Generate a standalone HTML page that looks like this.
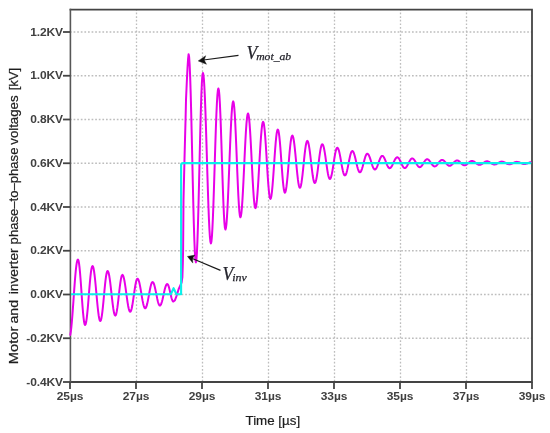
<!DOCTYPE html>
<html><head><meta charset="utf-8"><style>
html,body{margin:0;padding:0;background:#fff;}
svg{display:block;}
.tk text{font-family:"Liberation Sans",Arial,sans-serif;font-weight:bold;font-size:12px;letter-spacing:-0.12px;fill:#404040;}
.lab{font-family:"Liberation Sans",Arial,sans-serif;font-size:13.5px;fill:#1e1e1e;stroke:#1e1e1e;stroke-width:0.22px;}
.ann{font-family:"Liberation Serif","Times New Roman",serif;font-style:italic;fill:#24242c;stroke:#24242c;stroke-width:0.25px;}
</style></head><body>
<svg width="550" height="433" viewBox="0 0 550 433">
<rect width="550" height="433" fill="#fff"/>
<g stroke="#bdbdbd" stroke-width="1.3" stroke-dasharray="1.7 1.9" fill="none">
<line x1="136.5" y1="9" x2="136.5" y2="382"/><line x1="202.5" y1="9" x2="202.5" y2="382"/><line x1="268.5" y1="9" x2="268.5" y2="382"/><line x1="334.5" y1="9" x2="334.5" y2="382"/><line x1="400.5" y1="9" x2="400.5" y2="382"/><line x1="466.5" y1="9" x2="466.5" y2="382"/><line x1="70" y1="32.00" x2="532" y2="32.00"/><line x1="70" y1="75.75" x2="532" y2="75.75"/><line x1="70" y1="119.50" x2="532" y2="119.50"/><line x1="70" y1="163.25" x2="532" y2="163.25"/><line x1="70" y1="207.00" x2="532" y2="207.00"/><line x1="70" y1="250.75" x2="532" y2="250.75"/><line x1="70" y1="294.50" x2="532" y2="294.50"/><line x1="70" y1="338.25" x2="532" y2="338.25"/>
</g>
<g stroke="#444" stroke-width="1.8" fill="none">
<path d="M69.6,9.6 L532,9.6 L532,382 L69.6,382" stroke-width="1.8" stroke-linejoin="miter"/><line x1="70.4" y1="8.8" x2="70.4" y2="382.8" stroke="#575757" stroke-width="1.6"/>
<line x1="63" y1="32.00" x2="70" y2="32.00"/><line x1="63" y1="75.75" x2="70" y2="75.75"/><line x1="63" y1="119.50" x2="70" y2="119.50"/><line x1="63" y1="163.25" x2="70" y2="163.25"/><line x1="63" y1="207.00" x2="70" y2="207.00"/><line x1="63" y1="250.75" x2="70" y2="250.75"/><line x1="63" y1="294.50" x2="70" y2="294.50"/><line x1="63" y1="338.25" x2="70" y2="338.25"/><line x1="63" y1="382.00" x2="70" y2="382.00"/><line x1="70" y1="382" x2="70" y2="389"/><line x1="136" y1="382" x2="136" y2="389"/><line x1="202" y1="382" x2="202" y2="389"/><line x1="268" y1="382" x2="268" y2="389"/><line x1="334" y1="382" x2="334" y2="389"/><line x1="400" y1="382" x2="400" y2="389"/><line x1="466" y1="382" x2="466" y2="389"/><line x1="532" y1="382" x2="532" y2="389"/>
</g>
<path d="M70.31,334.87 L70.82,331.66 L71.32,327.32 L71.83,322.00 L72.34,315.88 L72.84,309.17 L73.35,302.10 L73.85,294.90 L74.36,287.83 L74.86,281.12 L75.37,275.00 L75.88,269.68 L76.38,265.34 L76.89,262.13 L77.39,260.16 L77.90,259.50 L78.41,260.32 L78.93,262.74 L79.44,266.65 L79.96,271.83 L80.47,278.04 L80.99,284.96 L81.50,292.25 L82.01,299.54 L82.53,306.46 L83.04,312.67 L83.56,317.85 L84.07,321.76 L84.59,324.18 L85.10,325.00 L85.63,324.26 L86.16,322.08 L86.69,318.56 L87.21,313.89 L87.74,308.30 L88.27,302.06 L88.80,295.50 L89.33,288.94 L89.86,282.70 L90.39,277.11 L90.91,272.44 L91.44,268.92 L91.97,266.74 L92.50,266.00 L93.02,266.60 L93.54,268.38 L94.06,271.25 L94.58,275.10 L95.10,279.75 L95.62,285.00 L96.14,290.63 L96.66,296.37 L97.18,302.00 L97.70,307.25 L98.22,311.90 L98.74,315.75 L99.26,318.62 L99.78,320.40 L100.30,321.00 L100.82,320.37 L101.34,318.52 L101.86,315.55 L102.39,311.59 L102.91,306.85 L103.43,301.56 L103.95,296.00 L104.47,290.44 L104.99,285.15 L105.51,280.41 L106.04,276.45 L106.56,273.48 L107.08,271.63 L107.60,271.00 L108.11,271.49 L108.63,272.93 L109.14,275.26 L109.65,278.38 L110.17,282.15 L110.68,286.41 L111.19,290.97 L111.71,295.63 L112.22,300.19 L112.73,304.45 L113.25,308.22 L113.76,311.34 L114.27,313.67 L114.79,315.11 L115.30,315.60 L115.81,315.09 L116.31,313.58 L116.82,311.16 L117.33,307.94 L117.84,304.08 L118.34,299.78 L118.85,295.25 L119.36,290.72 L119.86,286.42 L120.37,282.56 L120.88,279.34 L121.39,276.92 L121.89,275.41 L122.40,274.90 L122.92,275.30 L123.44,276.50 L123.96,278.42 L124.48,281.00 L125.00,284.12 L125.52,287.65 L126.04,291.42 L126.56,295.28 L127.08,299.05 L127.60,302.57 L128.12,305.70 L128.64,308.28 L129.16,310.20 L129.68,311.40 L130.20,311.80 L130.72,311.39 L131.24,310.16 L131.76,308.19 L132.29,305.57 L132.81,302.43 L133.33,298.93 L133.85,295.25 L134.37,291.57 L134.89,288.07 L135.41,284.93 L135.94,282.31 L136.46,280.34 L136.98,279.11 L137.50,278.70 L138.01,279.02 L138.53,279.98 L139.04,281.53 L139.55,283.60 L140.07,286.10 L140.58,288.93 L141.09,291.95 L141.61,295.05 L142.12,298.07 L142.63,300.90 L143.15,303.40 L143.66,305.47 L144.17,307.02 L144.69,307.98 L145.20,308.30 L145.73,307.97 L146.26,307.00 L146.79,305.43 L147.31,303.35 L147.84,300.86 L148.37,298.08 L148.90,295.15 L149.43,292.22 L149.96,289.44 L150.49,286.95 L151.01,284.87 L151.54,283.30 L152.07,282.33 L152.60,282.00 L153.12,282.30 L153.64,283.17 L154.16,284.57 L154.69,286.44 L155.21,288.68 L155.73,291.17 L156.25,293.80 L156.77,296.43 L157.29,298.92 L157.81,301.16 L158.34,303.03 L158.86,304.43 L159.38,305.30 L159.90,305.60 L160.42,305.33 L160.94,304.53 L161.46,303.24 L161.99,301.53 L162.51,299.49 L163.03,297.20 L163.55,294.80 L164.07,292.40 L164.59,290.11 L165.11,288.07 L165.64,286.36 L166.16,285.07 L166.68,284.27 L167.20,284.00 L167.72,284.30 L168.23,285.18 L168.75,286.58 L169.27,288.40 L169.78,290.52 L170.30,292.80 L170.82,295.08 L171.33,297.20 L171.85,299.02 L172.37,300.42 L172.88,301.30 L173.40,301.60 L175.00,300.20 L176.70,295.50 L178.50,289.50 L180.20,285.60 L181.60,282.50 L182.40,277.00 L182.80,264.00 L183.10,250.00 L183.50,200.00 L184.40,163.00 L185.00,140.00 L185.60,118.00 L186.00,100.00 L186.80,82.00 L187.50,68.00 L188.10,58.50 L188.60,54.20 L189.12,56.81 L189.64,64.51 L190.16,76.91 L190.69,93.39 L191.21,113.13 L191.73,135.14 L192.25,158.30 L192.77,181.46 L193.29,203.47 L193.81,223.21 L194.34,239.69 L194.86,252.09 L195.38,259.79 L195.90,262.40 L196.40,260.02 L196.90,253.02 L197.40,241.73 L197.90,226.73 L198.40,208.76 L198.90,188.73 L199.40,167.65 L199.90,146.57 L200.40,126.54 L200.90,108.57 L201.40,93.57 L201.90,82.28 L202.40,75.28 L202.90,72.90 L203.40,74.54 L203.90,79.39 L204.40,87.27 L204.90,97.87 L205.40,110.79 L205.90,125.53 L206.40,141.52 L206.90,158.15 L207.40,174.78 L207.90,190.77 L208.40,205.51 L208.90,218.43 L209.40,229.03 L209.90,236.91 L210.40,241.76 L210.90,243.40 L211.40,241.71 L211.90,236.70 L212.40,228.60 L212.90,217.76 L213.40,204.65 L213.90,189.85 L214.40,174.00 L214.90,157.80 L215.40,141.95 L215.90,127.15 L216.40,114.04 L216.90,103.20 L217.40,95.10 L217.90,90.09 L218.40,88.40 L218.90,90.17 L219.40,95.39 L219.90,103.80 L220.40,114.98 L220.90,128.37 L221.40,143.29 L221.90,159.00 L222.40,174.71 L222.90,189.63 L223.40,203.02 L223.90,214.20 L224.40,222.61 L224.90,227.83 L225.40,229.60 L225.92,228.20 L226.44,224.06 L226.96,217.36 L227.48,208.39 L228.00,197.55 L228.52,185.31 L229.04,172.20 L229.56,158.80 L230.08,145.69 L230.60,133.45 L231.12,122.61 L231.64,113.64 L232.16,106.94 L232.68,102.80 L233.20,101.40 L233.71,102.85 L234.23,107.14 L234.74,114.04 L235.26,123.22 L235.77,134.21 L236.29,146.45 L236.80,159.35 L237.31,172.25 L237.83,184.49 L238.34,195.48 L238.86,204.66 L239.37,211.56 L239.89,215.85 L240.40,217.30 L240.91,216.17 L241.41,212.81 L241.92,207.39 L242.43,200.13 L242.93,191.35 L243.44,181.44 L243.95,170.83 L244.45,159.97 L244.96,149.36 L245.47,139.45 L245.97,130.67 L246.48,123.41 L246.99,117.99 L247.49,114.63 L248.00,113.50 L248.53,114.69 L249.06,118.19 L249.59,123.83 L250.11,131.33 L250.64,140.31 L251.17,150.31 L251.70,160.85 L252.23,171.39 L252.76,181.39 L253.29,190.37 L253.81,197.87 L254.34,203.51 L254.87,207.01 L255.40,208.20 L255.91,207.26 L256.43,204.47 L256.94,199.95 L257.45,193.91 L257.97,186.60 L258.48,178.35 L258.99,169.52 L259.51,160.48 L260.02,151.65 L260.53,143.40 L261.05,136.09 L261.56,130.05 L262.07,125.53 L262.59,122.74 L263.10,121.80 L263.62,122.77 L264.14,125.62 L264.66,130.21 L265.19,136.31 L265.71,143.62 L266.23,151.77 L266.75,160.35 L267.27,168.93 L267.79,177.08 L268.31,184.39 L268.84,190.49 L269.36,195.08 L269.88,197.93 L270.40,198.90 L270.93,198.03 L271.46,195.46 L271.99,191.33 L272.51,185.84 L273.04,179.26 L273.57,171.92 L274.10,164.20 L274.63,156.48 L275.16,149.14 L275.69,142.56 L276.21,137.07 L276.74,132.94 L277.27,130.37 L277.80,129.50 L278.31,130.29 L278.81,132.63 L279.32,136.39 L279.83,141.40 L280.34,147.39 L280.84,154.07 L281.35,161.10 L281.86,168.13 L282.36,174.81 L282.87,180.80 L283.38,185.81 L283.89,189.57 L284.39,191.91 L284.90,192.70 L285.43,191.98 L285.96,189.87 L286.49,186.46 L287.01,181.93 L287.54,176.51 L288.07,170.46 L288.60,164.10 L289.13,157.74 L289.66,151.69 L290.19,146.27 L290.71,141.74 L291.24,138.33 L291.77,136.22 L292.30,135.50 L292.81,136.07 L293.31,137.76 L293.82,140.49 L294.33,144.15 L294.83,148.57 L295.34,153.57 L295.85,158.92 L296.35,164.38 L296.86,169.73 L297.37,174.72 L297.87,179.15 L298.38,182.81 L298.89,185.54 L299.39,187.23 L299.90,187.80 L300.43,187.21 L300.96,185.48 L301.49,182.68 L302.01,178.97 L302.54,174.52 L303.07,169.57 L303.60,164.35 L304.13,159.13 L304.66,154.18 L305.19,149.73 L305.71,146.02 L306.24,143.22 L306.77,141.49 L307.30,140.90 L307.80,141.36 L308.30,142.72 L308.80,144.92 L309.30,147.86 L309.80,151.43 L310.30,155.45 L310.80,159.75 L311.30,164.15 L311.80,168.45 L312.30,172.47 L312.80,176.04 L313.30,178.98 L313.80,181.18 L314.30,182.54 L314.80,183.00 L315.30,182.58 L315.80,181.32 L316.30,179.29 L316.80,176.58 L317.30,173.30 L317.80,169.59 L318.30,165.63 L318.80,161.57 L319.30,157.61 L319.80,153.90 L320.30,150.62 L320.80,147.91 L321.30,145.88 L321.80,144.62 L322.30,144.20 L322.81,144.58 L323.31,145.70 L323.82,147.52 L324.33,149.96 L324.83,152.90 L325.34,156.22 L325.85,159.78 L326.35,163.42 L326.86,166.98 L327.37,170.30 L327.87,173.24 L328.38,175.68 L328.89,177.50 L329.39,178.62 L329.90,179.00 L330.43,178.61 L330.96,177.45 L331.49,175.59 L332.01,173.11 L332.54,170.14 L333.07,166.83 L333.60,163.35 L334.13,159.87 L334.66,156.56 L335.19,153.59 L335.71,151.11 L336.24,149.25 L336.77,148.09 L337.30,147.70 L337.81,148.00 L338.31,148.90 L338.82,150.35 L339.33,152.30 L339.83,154.65 L340.34,157.30 L340.85,160.15 L341.35,163.05 L341.86,165.90 L342.37,168.55 L342.87,170.90 L343.38,172.85 L343.89,174.30 L344.39,175.20 L344.90,175.50 L345.43,175.19 L345.96,174.29 L346.49,172.83 L347.01,170.89 L347.54,168.57 L348.07,165.98 L348.60,163.25 L349.13,160.52 L349.66,157.93 L350.19,155.61 L350.71,153.67 L351.24,152.21 L351.77,151.31 L352.30,151.00 L352.81,151.23 L353.31,151.92 L353.82,153.03 L354.33,154.52 L354.83,156.32 L355.34,158.36 L355.85,160.54 L356.35,162.76 L356.86,164.94 L357.37,166.97 L357.87,168.78 L358.38,170.27 L358.89,171.38 L359.39,172.07 L359.90,172.30 L360.43,172.07 L360.96,171.38 L361.49,170.27 L362.01,168.80 L362.54,167.04 L363.07,165.07 L363.60,163.00 L364.13,160.93 L364.66,158.96 L365.19,157.20 L365.71,155.73 L366.24,154.62 L366.77,153.93 L367.30,153.70 L367.81,153.87 L368.31,154.38 L368.82,155.21 L369.33,156.31 L369.83,157.65 L370.34,159.16 L370.85,160.77 L371.35,162.43 L371.86,164.04 L372.37,165.55 L372.87,166.89 L373.38,167.99 L373.89,168.82 L374.39,169.33 L374.90,169.50 L375.43,169.33 L375.96,168.83 L376.49,168.02 L377.01,166.94 L377.54,165.65 L378.07,164.21 L378.60,162.70 L379.13,161.19 L379.66,159.75 L380.19,158.46 L380.71,157.38 L381.24,156.57 L381.77,156.07 L382.30,155.90 L382.82,156.05 L383.34,156.51 L383.86,157.24 L384.39,158.22 L384.91,159.38 L385.43,160.68 L385.95,162.05 L386.47,163.42 L386.99,164.72 L387.51,165.88 L388.04,166.86 L388.56,167.59 L389.08,168.05 L389.60,168.20 L390.11,168.08 L390.63,167.73 L391.14,167.16 L391.65,166.40 L392.17,165.47 L392.68,164.43 L393.19,163.32 L393.71,162.18 L394.22,161.07 L394.73,160.03 L395.25,159.10 L395.76,158.34 L396.27,157.77 L396.79,157.42 L397.30,157.30 L397.83,157.44 L398.37,157.83 L398.90,158.47 L399.43,159.33 L399.97,160.35 L400.50,161.49 L401.04,162.68 L401.57,163.88 L402.10,165.02 L402.64,166.04 L403.17,166.89 L403.70,167.54 L404.24,167.93 L404.77,168.07 L405.30,167.95 L405.84,167.59 L406.37,167.02 L406.90,166.25 L407.44,165.34 L407.97,164.31 L408.50,163.24 L409.04,162.17 L409.57,161.15 L410.11,160.23 L410.64,159.46 L411.17,158.89 L411.71,158.53 L412.24,158.41 L412.77,158.52 L413.31,158.84 L413.84,159.37 L414.37,160.06 L414.91,160.89 L415.44,161.81 L415.98,162.78 L416.51,163.76 L417.04,164.68 L417.58,165.51 L418.11,166.20 L418.64,166.72 L419.18,167.04 L419.71,167.15 L420.24,167.05 L420.78,166.76 L421.31,166.29 L421.84,165.66 L422.38,164.91 L422.91,164.08 L423.45,163.20 L423.98,162.32 L424.51,161.48 L425.05,160.73 L425.58,160.10 L426.11,159.63 L426.65,159.34 L427.18,159.24 L427.71,159.33 L428.25,159.59 L428.78,160.02 L429.31,160.59 L429.85,161.27 L430.38,162.02 L430.92,162.82 L431.45,163.62 L431.98,164.38 L432.52,165.05 L433.05,165.62 L433.58,166.05 L434.12,166.31 L434.65,166.40 L435.18,166.32 L435.72,166.08 L436.25,165.70 L436.78,165.18 L437.32,164.57 L437.85,163.88 L438.38,163.16 L438.92,162.44 L439.45,161.75 L439.99,161.14 L440.52,160.63 L441.05,160.24 L441.59,160.00 L442.12,159.92 L442.65,159.99 L443.19,160.21 L443.72,160.56 L444.25,161.02 L444.79,161.58 L445.32,162.20 L445.86,162.85 L446.39,163.51 L446.92,164.13 L447.46,164.68 L447.99,165.15 L448.52,165.50 L449.06,165.72 L449.59,165.79 L450.12,165.72 L450.66,165.53 L451.19,165.21 L451.72,164.79 L452.26,164.28 L452.79,163.72 L453.33,163.13 L453.86,162.54 L454.39,161.98 L454.93,161.48 L455.46,161.06 L455.99,160.74 L456.53,160.54 L457.06,160.48 L457.59,160.54 L458.13,160.71 L458.66,161.00 L459.19,161.38 L459.73,161.84 L460.26,162.35 L460.80,162.88 L461.33,163.42 L461.86,163.92 L462.40,164.38 L462.93,164.76 L463.46,165.05 L464.00,165.22 L464.53,165.29 L465.06,165.23 L465.60,165.07 L466.13,164.81 L466.66,164.47 L467.20,164.05 L467.73,163.59 L468.26,163.11 L468.80,162.62 L469.33,162.16 L469.87,161.75 L470.40,161.41 L470.93,161.15 L471.47,160.99 L472.00,160.93 L472.53,160.98 L473.07,161.13 L473.60,161.36 L474.13,161.67 L474.67,162.05 L475.20,162.46 L475.74,162.90 L476.27,163.34 L476.80,163.76 L477.34,164.13 L477.87,164.44 L478.40,164.68 L478.94,164.82 L479.47,164.87 L480.00,164.83 L480.54,164.70 L481.07,164.48 L481.60,164.20 L482.14,163.86 L482.67,163.49 L483.21,163.09 L483.74,162.69 L484.27,162.31 L484.81,161.98 L485.34,161.69 L485.87,161.48 L486.41,161.35 L486.94,161.31 L487.47,161.35 L488.01,161.47 L488.54,161.66 L489.07,161.91 L489.61,162.22 L490.14,162.56 L490.68,162.92 L491.21,163.28 L491.74,163.62 L492.28,163.93 L492.81,164.18 L493.34,164.37 L493.88,164.49 L494.41,164.53 L494.94,164.50 L495.48,164.39 L496.01,164.22 L496.54,163.98 L497.08,163.71 L497.61,163.40 L498.14,163.07 L498.68,162.75 L499.21,162.44 L499.75,162.16 L500.28,161.93 L500.81,161.76 L501.35,161.65 L501.88,161.61 L502.41,161.64 L502.95,161.74 L503.48,161.90 L504.01,162.11 L504.55,162.36 L505.08,162.64 L505.62,162.93 L506.15,163.23 L506.68,163.51 L507.22,163.76 L507.75,163.97 L508.28,164.13 L508.82,164.22 L509.35,164.26 L509.88,164.23 L510.42,164.14 L510.95,164.00 L511.48,163.81 L512.02,163.58 L512.55,163.33 L513.09,163.06 L513.62,162.79 L514.15,162.54 L514.69,162.31 L515.22,162.12 L515.75,161.98 L516.29,161.89 L516.82,161.86 L517.35,161.89 L517.89,161.97 L518.42,162.10 L518.95,162.27 L519.49,162.48 L520.02,162.70 L520.56,162.95 L521.09,163.19 L521.62,163.42 L522.16,163.62 L522.69,163.79 L523.22,163.92 L523.76,164.00 L524.29,164.03 L524.82,164.01 L525.36,163.93 L525.89,163.82 L526.42,163.66 L526.96,163.47 L527.49,163.27 L528.02,163.05 L528.56,162.83 L529.09,162.62 L529.63,162.44 L530.16,162.28 L530.69,162.16" fill="none" stroke="#e800e8" stroke-width="2" stroke-linejoin="round" stroke-linecap="round"/>
<path d="M71,294.3 L170.8,294.3 L173.6,288.2 L176.5,294.3 L181.1,294.3 L181.1,165 Q181.1,163.1 183.1,163.1 L531.2,163.1" fill="none" stroke="#0af0ea" stroke-width="2.1" stroke-linejoin="round"/>
<g class="tk">
<text transform="translate(62.9,35.60) scale(1,0.92)" text-anchor="end">1.2KV</text><text transform="translate(62.9,79.35) scale(1,0.92)" text-anchor="end">1.0KV</text><text transform="translate(62.9,123.10) scale(1,0.92)" text-anchor="end">0.8KV</text><text transform="translate(62.9,166.85) scale(1,0.92)" text-anchor="end">0.6KV</text><text transform="translate(62.9,210.60) scale(1,0.92)" text-anchor="end">0.4KV</text><text transform="translate(62.9,254.35) scale(1,0.92)" text-anchor="end">0.2KV</text><text transform="translate(62.9,298.10) scale(1,0.92)" text-anchor="end">0.0KV</text><text transform="translate(62.9,341.85) scale(1,0.92)" text-anchor="end">-0.2KV</text><text transform="translate(62.9,385.60) scale(1,0.92)" text-anchor="end">-0.4KV</text><text transform="translate(70,400) scale(1,0.92)" text-anchor="middle">25µs</text><text transform="translate(136,400) scale(1,0.92)" text-anchor="middle">27µs</text><text transform="translate(202,400) scale(1,0.92)" text-anchor="middle">29µs</text><text transform="translate(268,400) scale(1,0.92)" text-anchor="middle">31µs</text><text transform="translate(334,400) scale(1,0.92)" text-anchor="middle">33µs</text><text transform="translate(400,400) scale(1,0.92)" text-anchor="middle">35µs</text><text transform="translate(466,400) scale(1,0.92)" text-anchor="middle">37µs</text><text transform="translate(532,400) scale(1,0.92)" text-anchor="middle">39µs</text>
</g>
<g class="lab" text-anchor="middle"><text transform="translate(18.2,345.5) rotate(-90)" textLength="37.6" lengthAdjust="spacingAndGlyphs">Motor</text><text transform="translate(18.2,311.75) rotate(-90)" textLength="23.6" lengthAdjust="spacingAndGlyphs">and</text><text transform="translate(18.2,271.3) rotate(-90)" textLength="45.9" lengthAdjust="spacingAndGlyphs">inverter</text><text transform="translate(18.2,196) rotate(-90)" textLength="96.8" lengthAdjust="spacingAndGlyphs">phase–to–phase</text><text transform="translate(18.2,120.1) rotate(-90)" textLength="49.3" lengthAdjust="spacingAndGlyphs">voltages</text><text transform="translate(18.2,79.05) rotate(-90)" textLength="22.6" lengthAdjust="spacingAndGlyphs">[kV]</text></g>
<text class="lab" x="272.8" y="424.5" text-anchor="middle" textLength="54.6" lengthAdjust="spacingAndGlyphs">Time [µs]</text>
<g stroke="#1a1a1a" stroke-width="1.15" fill="#111">
<line x1="238.5" y1="55.4" x2="203.5" y2="60"/>
<path d="M198.2,60.9 L205.7,55.7 L204.2,60.1 L206.5,64.3 Z" stroke-width="0.4"/>
<line x1="220.5" y1="270.4" x2="192.3" y2="258.5"/>
<path d="M187.4,256.4 L194.8,255.1 L192.6,258.6 L192.8,263.1 Z" stroke-width="0.4"/>
</g>
<text class="ann" x="246.6" y="58.7" font-size="17.8" textLength="10.8" lengthAdjust="spacingAndGlyphs">V</text><text class="ann" x="256.2" y="59.8" font-size="11.2" textLength="35" lengthAdjust="spacingAndGlyphs">mot_ab</text>
<text class="ann" x="222.4" y="279.7" font-size="17.8" textLength="10.8" lengthAdjust="spacingAndGlyphs">V</text><text class="ann" x="232.2" y="280.7" font-size="11.2" textLength="14.6" lengthAdjust="spacingAndGlyphs">inv</text>
</svg>
</body></html>
